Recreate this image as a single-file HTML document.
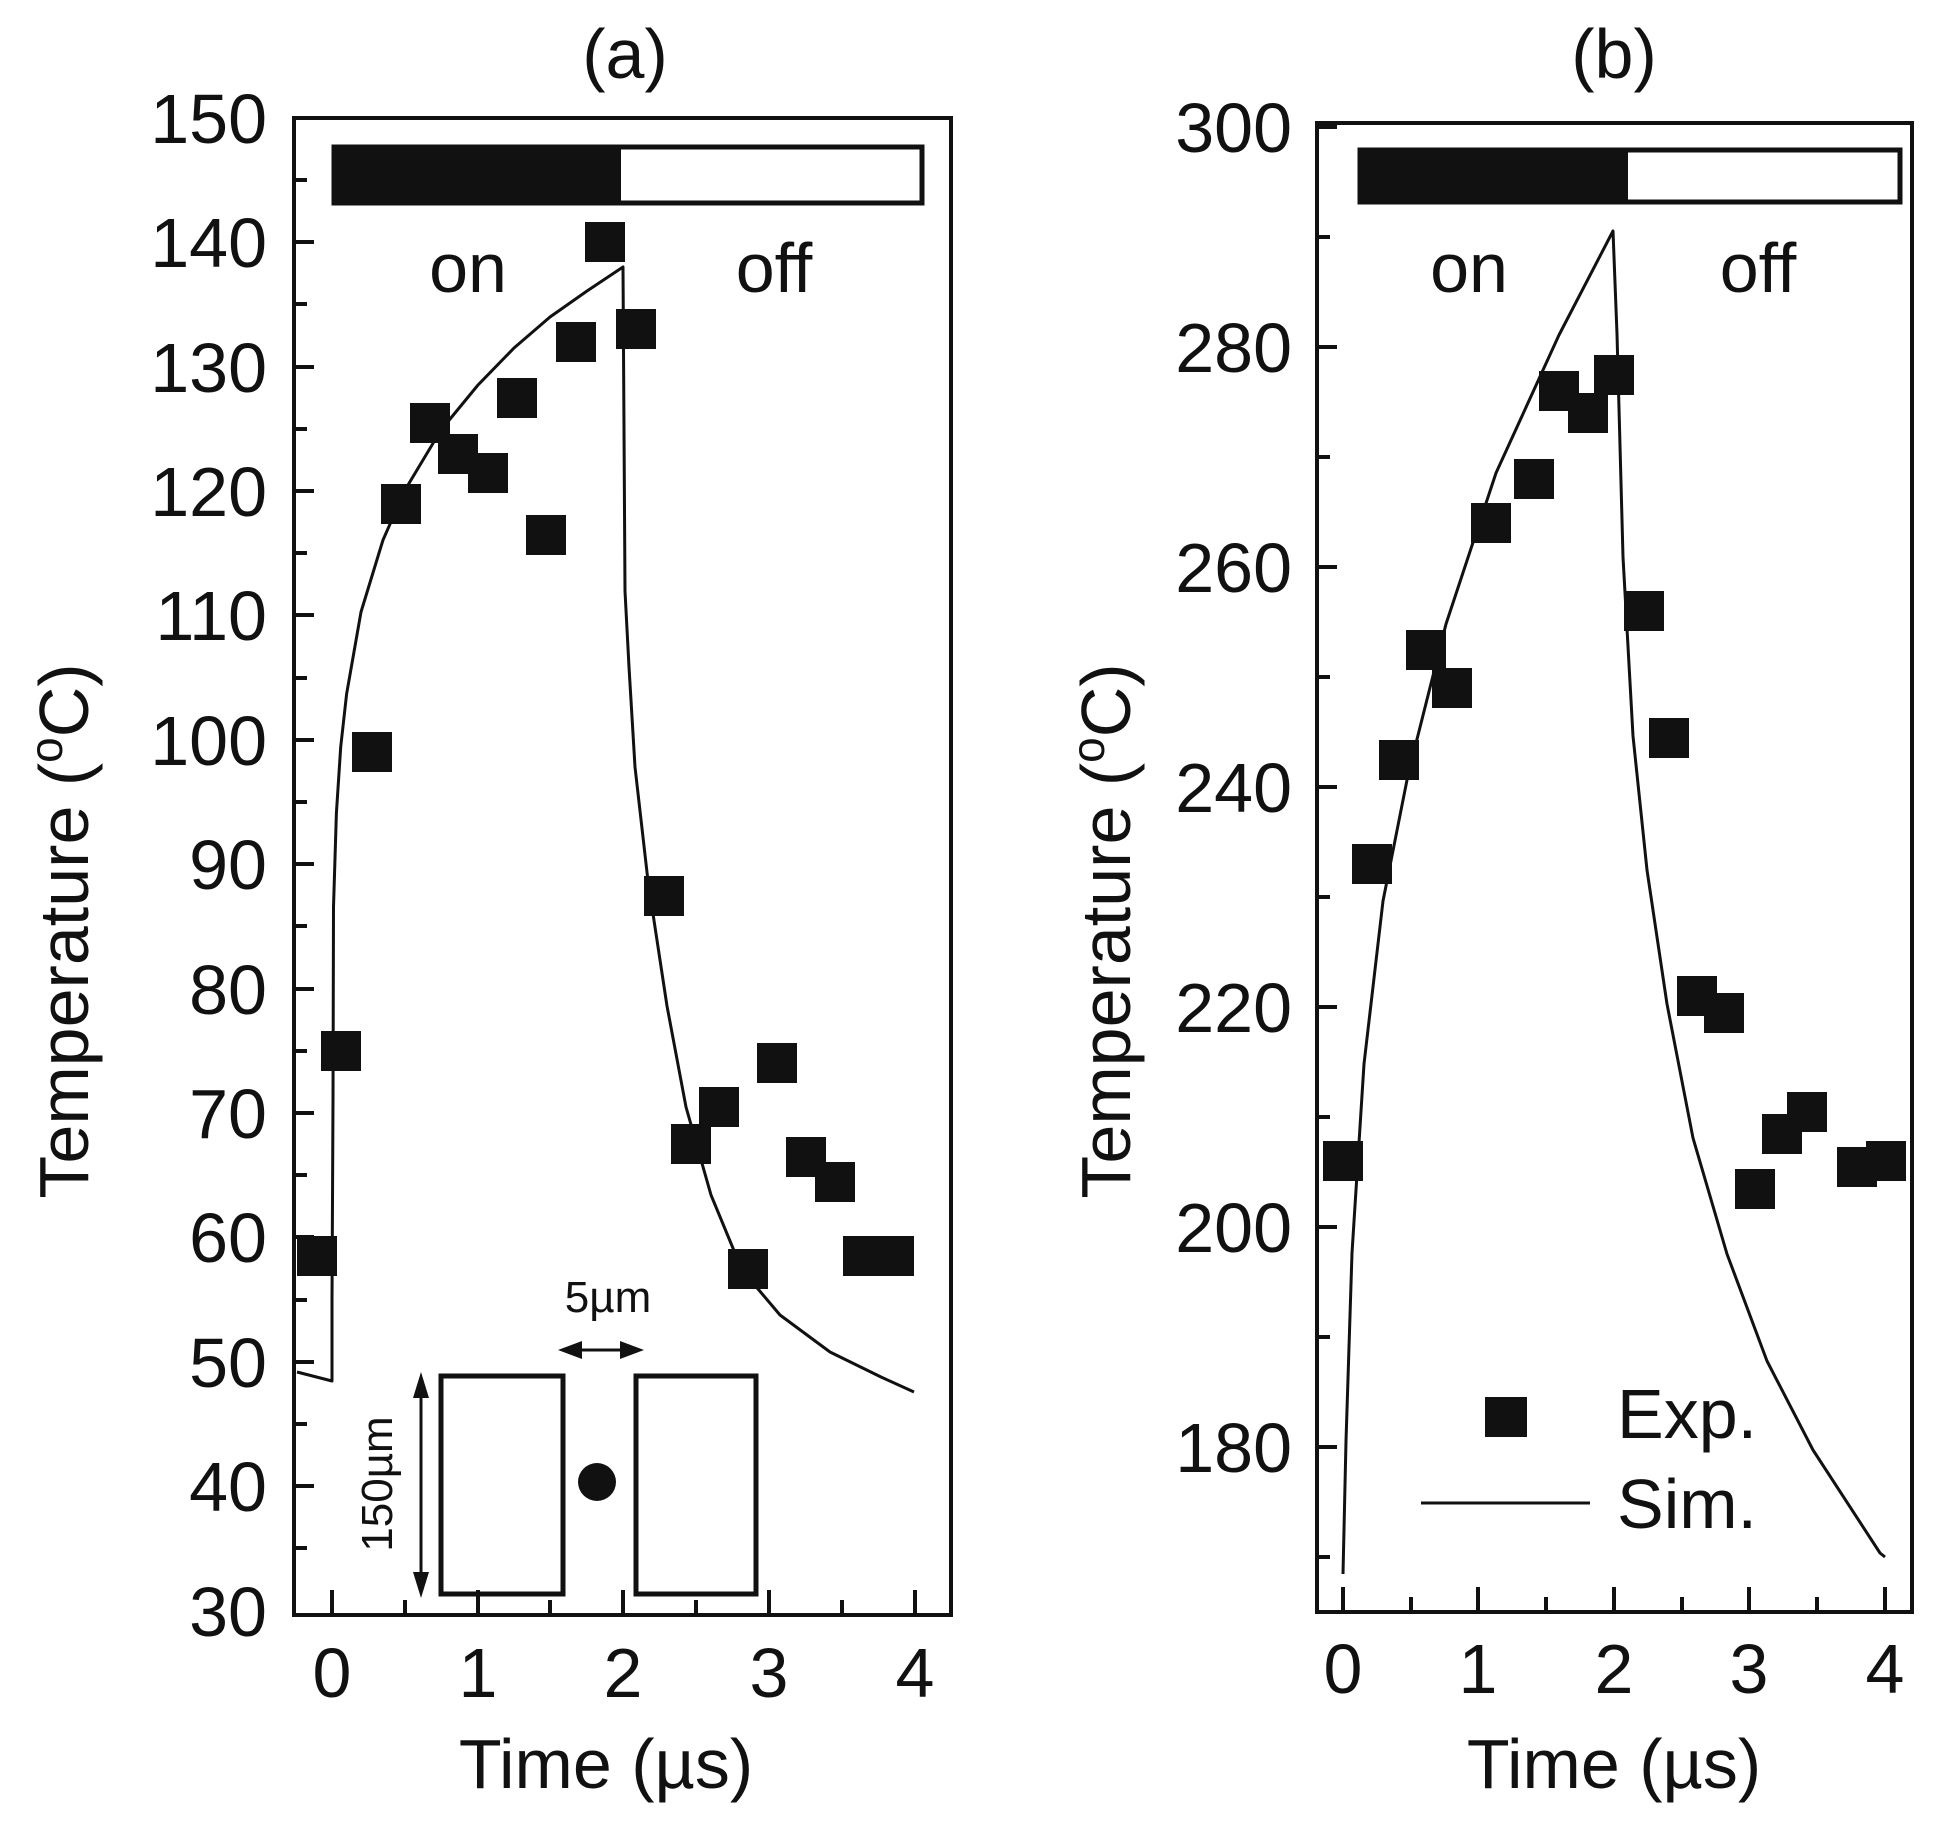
<!DOCTYPE html>
<html><head><meta charset="utf-8"><style>body{margin:0;background:#fff}svg{display:block}text{font-family:"Liberation Sans",Arial,sans-serif;fill:#111}</style></head>
<body>
<svg width="1953" height="1837" viewBox="0 0 1953 1837" xmlns="http://www.w3.org/2000/svg">
<g stroke="#111" fill="none" stroke-width="4">
<rect x="294" y="118" width="657" height="1497"/>
<rect x="1317" y="123" width="595" height="1489"/>
</g>
<g stroke="#111" stroke-width="4">
<path d="M294 242h20M294 367h20M294 491h20M294 615h20M294 740h20M294 864h20M294 989h20M294 1113h20M294 1237h20M294 1362h20M294 1486h20"/>
<path d="M294 180h13M294 304h13M294 429h13M294 553h13M294 678h13M294 802h13M294 926h13M294 1051h13M294 1175h13M294 1300h13M294 1424h13M294 1548h13"/>
<path d="M332 1615v-25M478 1615v-25M623 1615v-25M769 1615v-25M915 1615v-25"/>
<path d="M405 1615v-15M550 1615v-15M696 1615v-15M842 1615v-15"/>
<path d="M1317 127h20M1317 347h20M1317 567h20M1317 787h20M1317 1007h20M1317 1227h20M1317 1447h20"/>
<path d="M1317 237h13M1317 457h13M1317 677h13M1317 897h13M1317 1117h13M1317 1337h13M1317 1557h13"/>
<path d="M1343 1612v-25M1478 1612v-25M1614 1612v-25M1749 1612v-25M1885 1612v-25"/>
<path d="M1411 1612v-15M1546 1612v-15M1682 1612v-15M1817 1612v-15"/>
</g>
<g font-size="70" text-anchor="end">
<text x="267" y="143">150</text><text x="267" y="267">140</text><text x="267" y="392">130</text><text x="267" y="516">120</text><text x="267" y="640">110</text><text x="267" y="765">100</text><text x="267" y="889">90</text><text x="267" y="1014">80</text><text x="267" y="1138">70</text><text x="267" y="1262">60</text><text x="267" y="1387">50</text><text x="267" y="1511">40</text><text x="267" y="1636">30</text>
<text x="1292" y="152">300</text><text x="1292" y="372">280</text><text x="1292" y="592">260</text><text x="1292" y="812">240</text><text x="1292" y="1032">220</text><text x="1292" y="1252">200</text><text x="1292" y="1472">180</text>
</g>
<g font-size="70" text-anchor="middle">
<text x="332" y="1697">0</text><text x="478" y="1697">1</text><text x="623" y="1697">2</text><text x="769" y="1697">3</text><text x="915" y="1697">4</text>
<text x="1343" y="1693">0</text><text x="1478" y="1693">1</text><text x="1614" y="1693">2</text><text x="1749" y="1693">3</text><text x="1885" y="1693">4</text>
<text x="606" y="1788">Time (µs)</text><text x="1614" y="1788">Time (µs)</text>
<text x="625" y="78">(a)</text><text x="1614" y="78">(b)</text>
<text x="468" y="292">on</text><text x="774" y="292">off</text>
<text x="1469" y="292">on</text><text x="1758" y="292">off</text>
<text transform="translate(88,931) rotate(-90)">Temperature (<tspan font-size="46" dy="-26">o</tspan><tspan dy="26">C)</tspan></text>
<text transform="translate(1130,931) rotate(-90)">Temperature (<tspan font-size="46" dy="-26">o</tspan><tspan dy="26">C)</tspan></text>
</g>
<rect x="334" y="147" width="588" height="56" fill="#fff" stroke="#111" stroke-width="5"/>
<rect x="334" y="147" width="287" height="56" fill="#111"/>
<rect x="1360" y="150" width="540" height="52" fill="#fff" stroke="#111" stroke-width="5"/>
<rect x="1360" y="150" width="268" height="52" fill="#111"/>
<g stroke="#111" stroke-width="3" fill="none" stroke-linejoin="round">
<path d="M297 1372L332 1381L332 1300L333 1100L333.5 907L336.4 813L340.7 747L346.6 694L361 612L383 540L405 490L441 430L478 385L514 348L550 317L587 291L623 267L625 591L629 667L635 767L648 881L667 1006L686 1107L711 1195L742 1270L780 1315L830 1352L881 1377L914 1392"/>
<path d="M1343 1574L1346 1441L1352 1253L1364 1064L1383 901L1408 775L1446 624L1496 473L1559 335L1613 231L1617 334L1623 557L1633 736L1647 870L1667 1004L1693 1138L1727 1254L1767 1361L1813 1450L1880 1553L1885 1557"/>
<path d="M1421 1503H1590"/>
</g>
<g fill="#111">
<rect x="297" y="1236" width="40" height="40"/><rect x="321" y="1031" width="40" height="40"/><rect x="352" y="732" width="40" height="40"/><rect x="381" y="484" width="40" height="40"/><rect x="410" y="403" width="40" height="40"/><rect x="438" y="434" width="40" height="40"/><rect x="468" y="453" width="40" height="40"/><rect x="497" y="378" width="40" height="40"/><rect x="526" y="515" width="40" height="40"/><rect x="556" y="322" width="40" height="40"/><rect x="585" y="222" width="40" height="40"/><rect x="616" y="309" width="40" height="40"/><rect x="644" y="876" width="40" height="40"/><rect x="671" y="1124" width="40" height="40"/><rect x="699" y="1087" width="40" height="40"/><rect x="728" y="1249" width="40" height="40"/><rect x="757" y="1043" width="40" height="40"/><rect x="786" y="1137" width="40" height="40"/><rect x="815" y="1162" width="40" height="40"/><rect x="843" y="1236" width="40" height="40"/><rect x="874" y="1236" width="40" height="40"/>
<rect x="1323" y="1141" width="40" height="40"/><rect x="1352" y="844" width="40" height="40"/><rect x="1379" y="740" width="40" height="40"/><rect x="1406" y="630" width="40" height="40"/><rect x="1432" y="668" width="40" height="40"/><rect x="1471" y="503" width="40" height="40"/><rect x="1514" y="459" width="40" height="40"/><rect x="1539" y="371" width="40" height="40"/><rect x="1568" y="393" width="40" height="40"/><rect x="1594" y="355" width="40" height="40"/><rect x="1624" y="591" width="40" height="40"/><rect x="1649" y="718" width="40" height="40"/><rect x="1677" y="976" width="40" height="40"/><rect x="1704" y="993" width="40" height="40"/><rect x="1735" y="1169" width="40" height="40"/><rect x="1762" y="1114" width="40" height="40"/><rect x="1787" y="1092" width="40" height="40"/><rect x="1837" y="1147" width="40" height="40"/><rect x="1866" y="1141" width="40" height="40"/>
<rect x="1485" y="1397" width="42" height="40"/>
</g>
<g font-size="70"><text x="1617" y="1438">Exp.</text><text x="1617" y="1528">Sim.</text></g>
<g stroke="#111" stroke-width="5" fill="none">
<rect x="441" y="1376" width="122" height="218"/>
<rect x="636" y="1376" width="120" height="218"/>
</g>
<circle cx="597" cy="1482" r="19" fill="#111"/>
<g stroke="#111" stroke-width="3">
<path d="M421 1385V1585"/><path d="M570 1350H632"/>
</g>
<g fill="#111">
<path d="M421 1372l-8 26h16z"/><path d="M421 1598l-8 -26h16z"/>
<path d="M558 1350l24 -9v18z"/><path d="M644 1350l-24 -9v18z"/>
</g>
<text font-size="44" x="608" y="1312" text-anchor="middle">5µm</text>
<text font-size="44" text-anchor="middle" transform="translate(392,1484) rotate(-90)">150µm</text>
</svg>
</body></html>
